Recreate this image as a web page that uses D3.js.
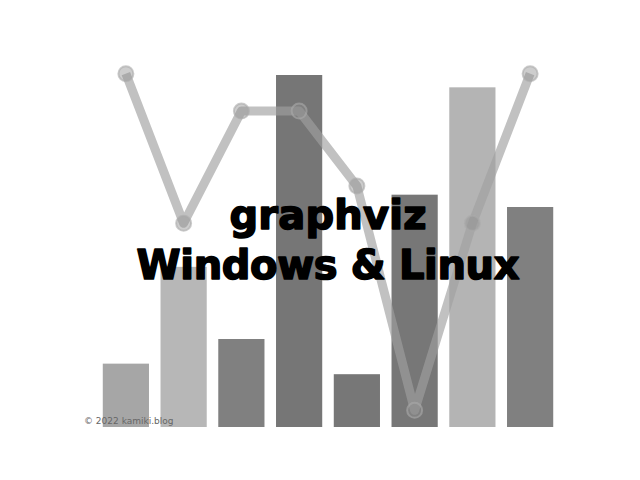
<!DOCTYPE html>
<html>
<head>
<meta charset="utf-8">
<script src="https://cdn.jsdelivr.net/npm/d3@7"></script>
<style>
  body { margin: 0; background: #fff; }
  svg { display: block; }
</style>
</head>
<body>
<svg id="chart"></svg>
<script>
// bar values and line values (arbitrary units)
const categories = ['a', 'b', 'c', 'd', 'e', 'f', 'g', 'h'];
const barValues = [18, 45.5, 25, 100, 15, 66, 96.5, 62.5];
const barColors = ['#a6a6a6', '#b7b7b7', '#808080', '#767676', '#777777', '#777777', '#b4b4b4', '#808080'];
const lineValues = [95, 55, 85, 85, 65, 5, 55, 95];
const titleLines = ['graphviz', 'Windows & Linux'];
const titleWidths = [199, 385];
const credit = '\u00a9 2022 kamiki.blog';

const width = 640;
const height = 480;

const svg = d3.select('#chart')
  .attr('width', width)
  .attr('height', height);

const x = d3.scaleBand()
  .domain(categories)
  .range([97, 559])
  .paddingInner(0.2)
  .paddingOuter(0.1);

const yBar = d3.scaleLinear()
  .domain([0, 100])
  .range([427, 75]);

const yLine = d3.scaleLinear()
  .domain([0, 100])
  .range([429, 55]);

svg.selectAll('rect.bar')
  .data(barValues)
  .enter()
  .append('rect')
  .attr('class', 'bar')
  .attr('x', (d, i) => x(categories[i]))
  .attr('y', d => yBar(d))
  .attr('width', x.bandwidth())
  .attr('height', d => yBar(0) - yBar(d))
  .attr('fill', (d, i) => barColors[i]);

const line = d3.line()
  .x((d, i) => x(categories[i]) + x.bandwidth() / 2)
  .y(d => yLine(d));

svg.append('path')
  .datum(lineValues)
  .attr('d', line)
  .attr('fill', 'none')
  .attr('stroke', '#a0a0a0')
  .attr('stroke-opacity', 0.65)
  .attr('stroke-width', 9)
  .attr('stroke-linejoin', 'round');

svg.selectAll('circle.pt')
  .data(lineValues)
  .enter()
  .append('circle')
  .attr('class', 'pt')
  .attr('cx', (d, i) => x(categories[i]) + x.bandwidth() / 2)
  .attr('cy', d => yLine(d))
  .attr('r', 7.5)
  .attr('fill', '#909090')
  .attr('fill-opacity', 0.45)
  .attr('stroke', '#aaaaaa')
  .attr('stroke-opacity', 0.6)
  .attr('stroke-width', 2);

// heavy rounded look: bold face plus a round stroke
svg.selectAll('text.title')
  .data(titleLines)
  .enter()
  .append('text')
  .attr('class', 'title')
  .attr('x', 328)
  .attr('y', (d, i) => 229 + i * 50)
  .attr('text-anchor', 'middle')
  .attr('font-family', 'DejaVu Sans')
  .attr('font-weight', 'bold')
  .attr('font-size', 40)
  .attr('textLength', (d, i) => titleWidths[i] - 2)
  .attr('lengthAdjust', 'spacing')
  .attr('fill', '#000')
  .attr('stroke', '#000')
  .attr('stroke-width', 1.6)
  .attr('stroke-linejoin', 'round')
  .text(d => d);

svg.append('text')
  .attr('x', 84)
  .attr('y', 424)
  .attr('font-family', 'DejaVu Sans')
  .attr('font-size', 9)
  .attr('fill', '#666')
  .text(credit);
</script>
</body>
</html>
